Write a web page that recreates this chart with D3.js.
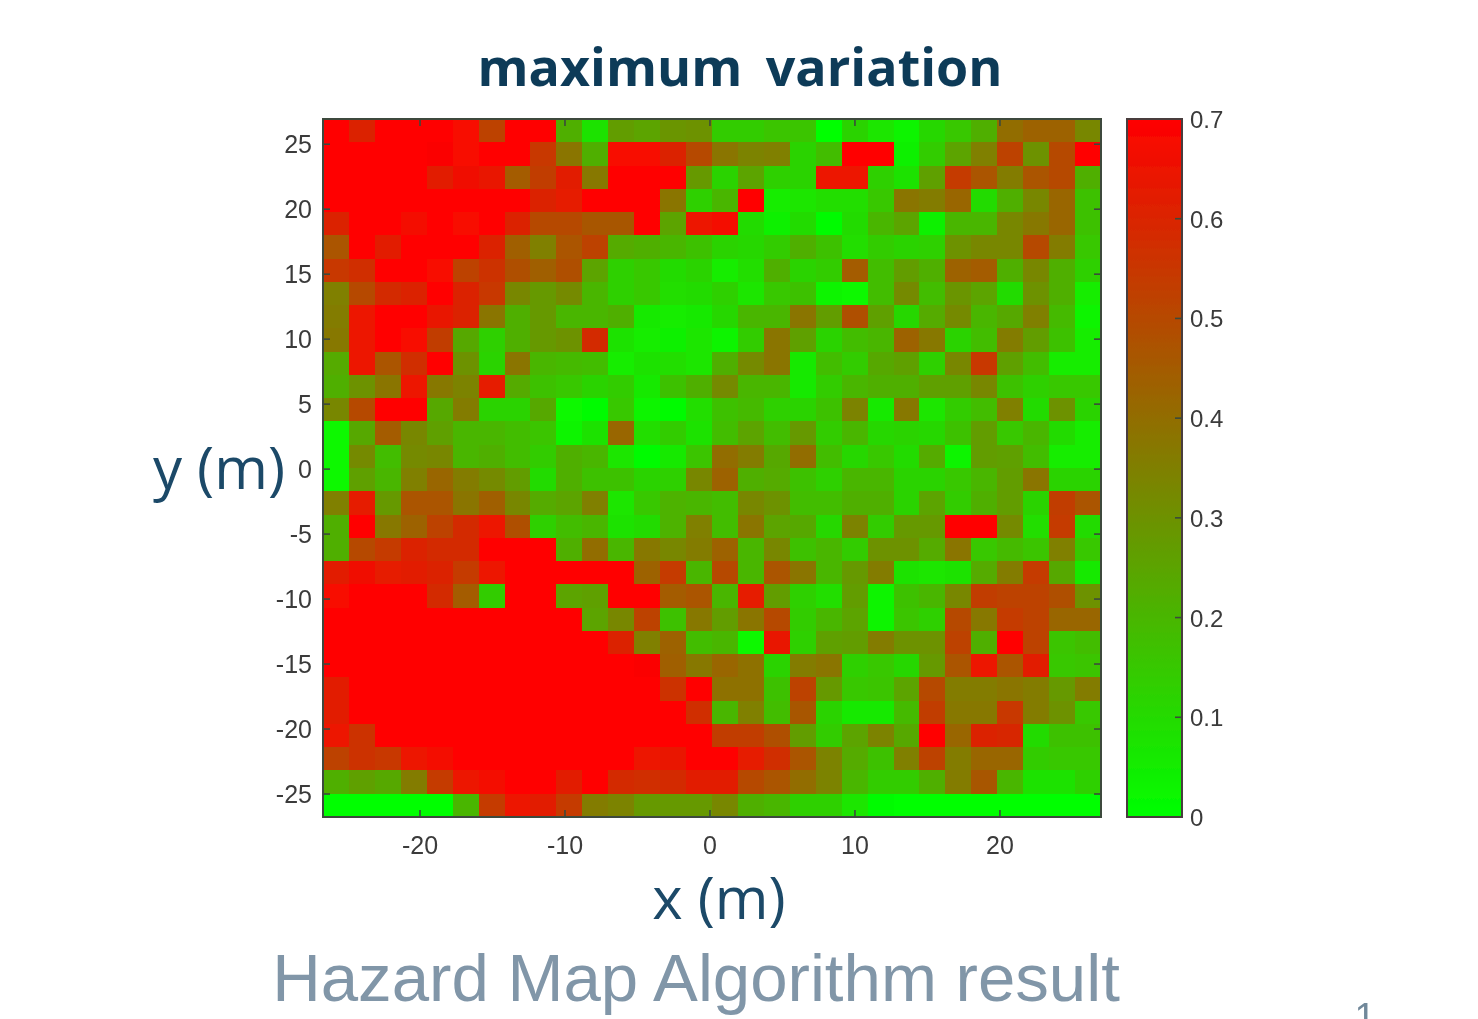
<!DOCTYPE html>
<html><head><meta charset="utf-8">
<script src="https://cdn.jsdelivr.net/npm/d3@7"></script>
<style>html,body{margin:0;padding:0;background:#fff;overflow:hidden}svg{display:block}</style>
</head><body><svg id="c" width="1478" height="1019"></svg>
<script>
const row00=[.7,.6,.7,.7,.7,.68,.52,.7,.7,.22,.08,.27,.25,.29,.3,.14,.14,.16,.16,0,.12,.07,.03,.11,.15,.22,.4,.43,.43,.33];
const row01=[.7,.7,.7,.7,.69,.68,.7,.7,.55,.38,.22,.68,.68,.6,.5,.38,.34,.35,.12,.18,.7,.7,.04,.14,.25,.35,.52,.3,.5,.7];
const row02=[.7,.7,.7,.7,.62,.66,.64,.45,.53,.62,.37,.7,.7,.7,.28,.12,.25,.13,.12,.65,.65,.13,.08,.26,.54,.47,.36,.47,.5,.22];
const row03=[.7,.7,.7,.7,.7,.7,.7,.7,.6,.63,.7,.7,.7,.38,.13,.2,.7,.05,.07,.09,.09,.15,.38,.36,.42,.1,.22,.33,.42,.17];
const row04=[.6,.7,.7,.67,.7,.68,.7,.6,.5,.5,.46,.46,.7,.25,.65,.67,.1,.04,.1,.01,.1,.2,.25,.04,.2,.2,.33,.37,.42,.17];
const row05=[.47,.7,.62,.7,.7,.7,.6,.44,.35,.47,.52,.23,.22,.2,.17,.12,.11,.14,.22,.17,.09,.14,.12,.13,.3,.33,.33,.5,.36,.15];
const row06=[.55,.57,.7,.7,.68,.52,.56,.48,.44,.48,.25,.13,.15,.1,.12,.05,.09,.22,.12,.14,.45,.18,.27,.22,.43,.45,.22,.33,.22,.13];
const row07=[.35,.5,.58,.6,.7,.6,.55,.33,.28,.32,.2,.13,.15,.09,.1,.13,.07,.15,.17,.03,.02,.18,.32,.18,.29,.25,.1,.3,.22,.05];
const row08=[.36,.65,.7,.7,.64,.6,.38,.22,.28,.2,.2,.22,.06,.05,.06,.11,.2,.2,.38,.27,.48,.26,.11,.23,.32,.2,.24,.35,.19,.03];
const row09=[.37,.65,.7,.68,.53,.24,.13,.22,.28,.3,.58,.08,.05,.04,.07,.03,.14,.38,.26,.12,.18,.2,.43,.37,.12,.18,.36,.27,.17,.05];
const row10=[.23,.65,.47,.57,.7,.3,.12,.38,.2,.19,.18,.05,.08,.09,.07,.22,.32,.38,.06,.18,.14,.24,.26,.13,.33,.55,.26,.18,.05,.05];
const row11=[.22,.3,.38,.65,.37,.34,.63,.23,.17,.15,.12,.14,.06,.17,.22,.32,.2,.2,.06,.14,.2,.22,.22,.26,.26,.33,.17,.13,.15,.15];
const row12=[.33,.5,.7,.7,.24,.36,.12,.12,.24,.02,.01,.15,.03,.01,.09,.17,.19,.13,.12,.17,.34,.06,.37,.07,.14,.18,.35,.1,.3,.12];
const row13=[.02,.24,.45,.33,.26,.2,.2,.18,.16,.03,.08,.42,.09,.14,.08,.18,.25,.18,.28,.14,.2,.11,.12,.11,.17,.27,.15,.2,.1,.05];
const row14=[.02,.32,.18,.32,.33,.2,.22,.18,.14,.22,.2,.07,.01,.06,.16,.4,.36,.24,.4,.18,.11,.15,.1,.23,.03,.27,.26,.18,.05,.05];
const row15=[.02,.26,.2,.35,.42,.36,.32,.27,.1,.22,.17,.17,.12,.13,.33,.43,.22,.23,.17,.13,.2,.2,.12,.12,.15,.2,.27,.38,.12,.12];
const row16=[.35,.63,.28,.47,.47,.38,.44,.33,.23,.25,.35,.07,.15,.21,.2,.18,.33,.3,.18,.18,.22,.22,.12,.25,.14,.22,.27,.12,.53,.47];
const row17=[.22,.7,.37,.43,.52,.58,.65,.48,.13,.18,.2,.08,.1,.21,.35,.18,.38,.25,.24,.11,.34,.14,.28,.28,.7,.7,.32,.09,.54,.1];
const row18=[.22,.5,.54,.6,.58,.58,.7,.7,.7,.22,.4,.2,.37,.33,.36,.43,.2,.33,.17,.2,.14,.3,.3,.23,.38,.15,.19,.16,.35,.15];
const row19=[.62,.66,.63,.62,.6,.54,.65,.7,.7,.7,.7,.7,.43,.54,.2,.5,.2,.47,.38,.2,.28,.36,.08,.07,.08,.23,.36,.54,.24,.06];
const row20=[.68,.7,.7,.7,.58,.45,.14,.7,.7,.25,.26,.7,.7,.45,.47,.2,.63,.27,.13,.09,.27,.03,.17,.2,.33,.53,.52,.52,.48,.3];
const row21=[.7,.7,.7,.7,.7,.7,.7,.7,.7,.7,.25,.33,.52,.17,.37,.27,.38,.5,.14,.2,.25,.03,.16,.13,.5,.37,.54,.52,.42,.42];
const row22=[.7,.7,.7,.7,.7,.7,.7,.7,.7,.7,.7,.6,.35,.43,.18,.2,.02,.64,.13,.26,.27,.36,.3,.3,.52,.22,.7,.52,.16,.18];
const row23=[.7,.7,.7,.7,.7,.7,.7,.7,.7,.7,.7,.7,.69,.44,.37,.42,.39,.12,.36,.38,.13,.15,.11,.28,.47,.65,.47,.62,.15,.16];
const row24=[.62,.7,.7,.7,.7,.7,.7,.7,.7,.7,.7,.7,.7,.56,.7,.39,.39,.17,.52,.28,.15,.16,.25,.5,.36,.36,.38,.36,.28,.36];
const row25=[.62,.7,.7,.7,.7,.7,.7,.7,.7,.7,.7,.7,.7,.7,.57,.2,.35,.18,.46,.12,.06,.06,.19,.53,.37,.37,.55,.36,.3,.15];
const row26=[.65,.56,.7,.7,.7,.7,.7,.7,.7,.7,.7,.7,.7,.7,.7,.53,.53,.48,.27,.14,.25,.34,.24,.7,.42,.6,.59,.1,.17,.17];
const row27=[.52,.56,.55,.65,.67,.7,.7,.7,.7,.7,.7,.7,.65,.64,.7,.7,.63,.57,.47,.34,.23,.17,.35,.52,.36,.42,.42,.14,.15,.15];
const row28=[.22,.26,.24,.36,.54,.65,.67,.7,.7,.62,.7,.58,.57,.58,.62,.62,.5,.47,.4,.34,.2,.14,.14,.22,.36,.46,.2,.08,.08,.13];
const row29=[0,0,0,0,0,.2,.54,.65,.62,.54,.36,.34,.28,.28,.28,.33,.22,.2,.13,.13,.07,.01,0,0,0,0,0,0,0,0];
const rows=[row00,row01,row02,row03,row04,row05,row06,row07,row08,row09,row10,row11,row12,row13,row14,row15,row16,row17,row18,row19,row20,row21,row22,row23,row24,row25,row26,row27,row28,row29];
const xTicks=[-20,-10,0,10,20];
const yTicks=[-25,-20,-15,-10,-5,0,5,10,15,20,25];
const cbarTicks=[0,.1,.2,.3,.4,.5,.6,.7];
const titleText="maximum variation", xLabel="x (m)", yLabel="y (m)", caption="Hazard Map Algorithm result", pageNo="1";

const L=323,R=1101,T=119,B=817,CL=1127,CR=1182;
const svg=d3.select("#c");
const defs=svg.append("defs");
defs.append("filter").attr("id","soft").attr("x","-5%").attr("y","-5%").attr("width","110%").attr("height","110%")
  .append("feGaussianBlur").attr("stdDeviation",0.7);
const color=d3.scaleLinear().domain([0,.7]).range(["#00ff00","#ff0000"]).clamp(true);
const xBand=d3.scaleBand().domain(d3.range(30)).range([L,R]);
const yBand=d3.scaleBand().domain(d3.range(30)).range([T,B]);
const x=d3.scaleLinear().domain([-26.69,26.97]).range([L,R]);
const y=d3.scaleLinear().domain([-26.77,26.94]).range([B,T]);
const cb=d3.scaleLinear().domain([0,.7]).range([B,T]);

const heat=svg.append("g").attr("filter","url(#soft)").attr("shape-rendering","crispEdges");
heat.selectAll("g").data(rows).join("g").each(function(r,i){
  d3.select(this).selectAll("rect").data(r).join("rect")
    .attr("x",(d,j)=>Math.round(xBand(j))).attr("y",Math.round(yBand(i)))
    .attr("width",(d,j)=>Math.round(xBand(j)+xBand.bandwidth())-Math.round(xBand(j)))
    .attr("height",Math.round(yBand(i)+yBand.bandwidth())-Math.round(yBand(i)))
    .attr("fill",d=>color(d));
});
const stroke="#3c4a3c";
const frame=svg.append("g").attr("filter","url(#soft)");
frame.append("rect").attr("x",L).attr("y",T).attr("width",R-L).attr("height",B-T).attr("fill","none").attr("stroke",stroke).attr("stroke-width",2);
const tick=frame.append("g").attr("stroke",stroke).attr("stroke-width",1.6);
xTicks.forEach(t=>{tick.append("line").attr("x1",x(t)).attr("x2",x(t)).attr("y1",B).attr("y2",B-7);
  tick.append("line").attr("x1",x(t)).attr("x2",x(t)).attr("y1",T).attr("y2",T+7);});
yTicks.forEach(t=>{tick.append("line").attr("y1",y(t)).attr("y2",y(t)).attr("x1",L).attr("x2",L+7);
  tick.append("line").attr("y1",y(t)).attr("y2",y(t)).attr("x1",R).attr("x2",R-7);});

const grad=defs.append("linearGradient").attr("id","cbg").attr("x1",0).attr("x2",0).attr("y1",1).attr("y2",0);
[0,.7].forEach(t=>grad.append("stop").attr("offset",t/.7).attr("stop-color",color(t)));
const cbar=svg.append("g").attr("filter","url(#soft)");
cbar.append("rect").attr("x",CL).attr("y",T).attr("width",CR-CL).attr("height",B-T).attr("fill","url(#cbg)").attr("stroke","#4a3c3c").attr("stroke-width",2);
cbarTicks.slice(1,-1).forEach(t=>cbar.append("line").attr("x1",CR).attr("x2",CR-7).attr("y1",cb(t)).attr("y2",cb(t)).attr("stroke",stroke).attr("stroke-width",1.6));

const text=svg.append("g").attr("filter","url(#soft)");
const tickFont="Liberation Sans", tickCol="#3a3a3a";
xTicks.forEach(t=>text.append("text").attr("x",x(t)).attr("y",854).attr("text-anchor","middle").attr("font-family",tickFont).attr("font-size",25).attr("fill",tickCol).text(t));
yTicks.forEach(t=>text.append("text").attr("x",312).attr("y",y(t)+9).attr("text-anchor","end").attr("font-family",tickFont).attr("font-size",25).attr("fill",tickCol).text(t));
cbarTicks.forEach(t=>text.append("text").attr("x",1190).attr("y",cb(t)+9).attr("font-family",tickFont).attr("font-size",24).attr("fill",tickCol).text(t));

text.append("text").attr("x",740).attr("y",86).attr("text-anchor","middle").attr("font-family","Open Sans").attr("font-weight",700).attr("font-size",52).attr("word-spacing",10).attr("fill","#0b3a58").text(titleText);
text.append("text").attr("x",719).attr("y",919).attr("text-anchor","middle").attr("font-family","Open Sans").attr("font-size",58).attr("fill","#1b4a68").text(xLabel);
text.append("text").attr("x",219).attr("y",489).attr("text-anchor","middle").attr("font-family","Open Sans").attr("font-size",58).attr("fill","#1b4a68").text(yLabel);
text.append("text").attr("x",696).attr("y",1001).attr("text-anchor","middle").attr("font-family","Liberation Sans").attr("font-size",67.2).attr("fill","#8196a8").text(caption);
text.append("text").attr("x",1365).attr("y",1030).attr("text-anchor","middle").attr("font-family","Liberation Sans").attr("font-size",38).attr("fill","#71889a").text(pageNo);
</script></body></html>
